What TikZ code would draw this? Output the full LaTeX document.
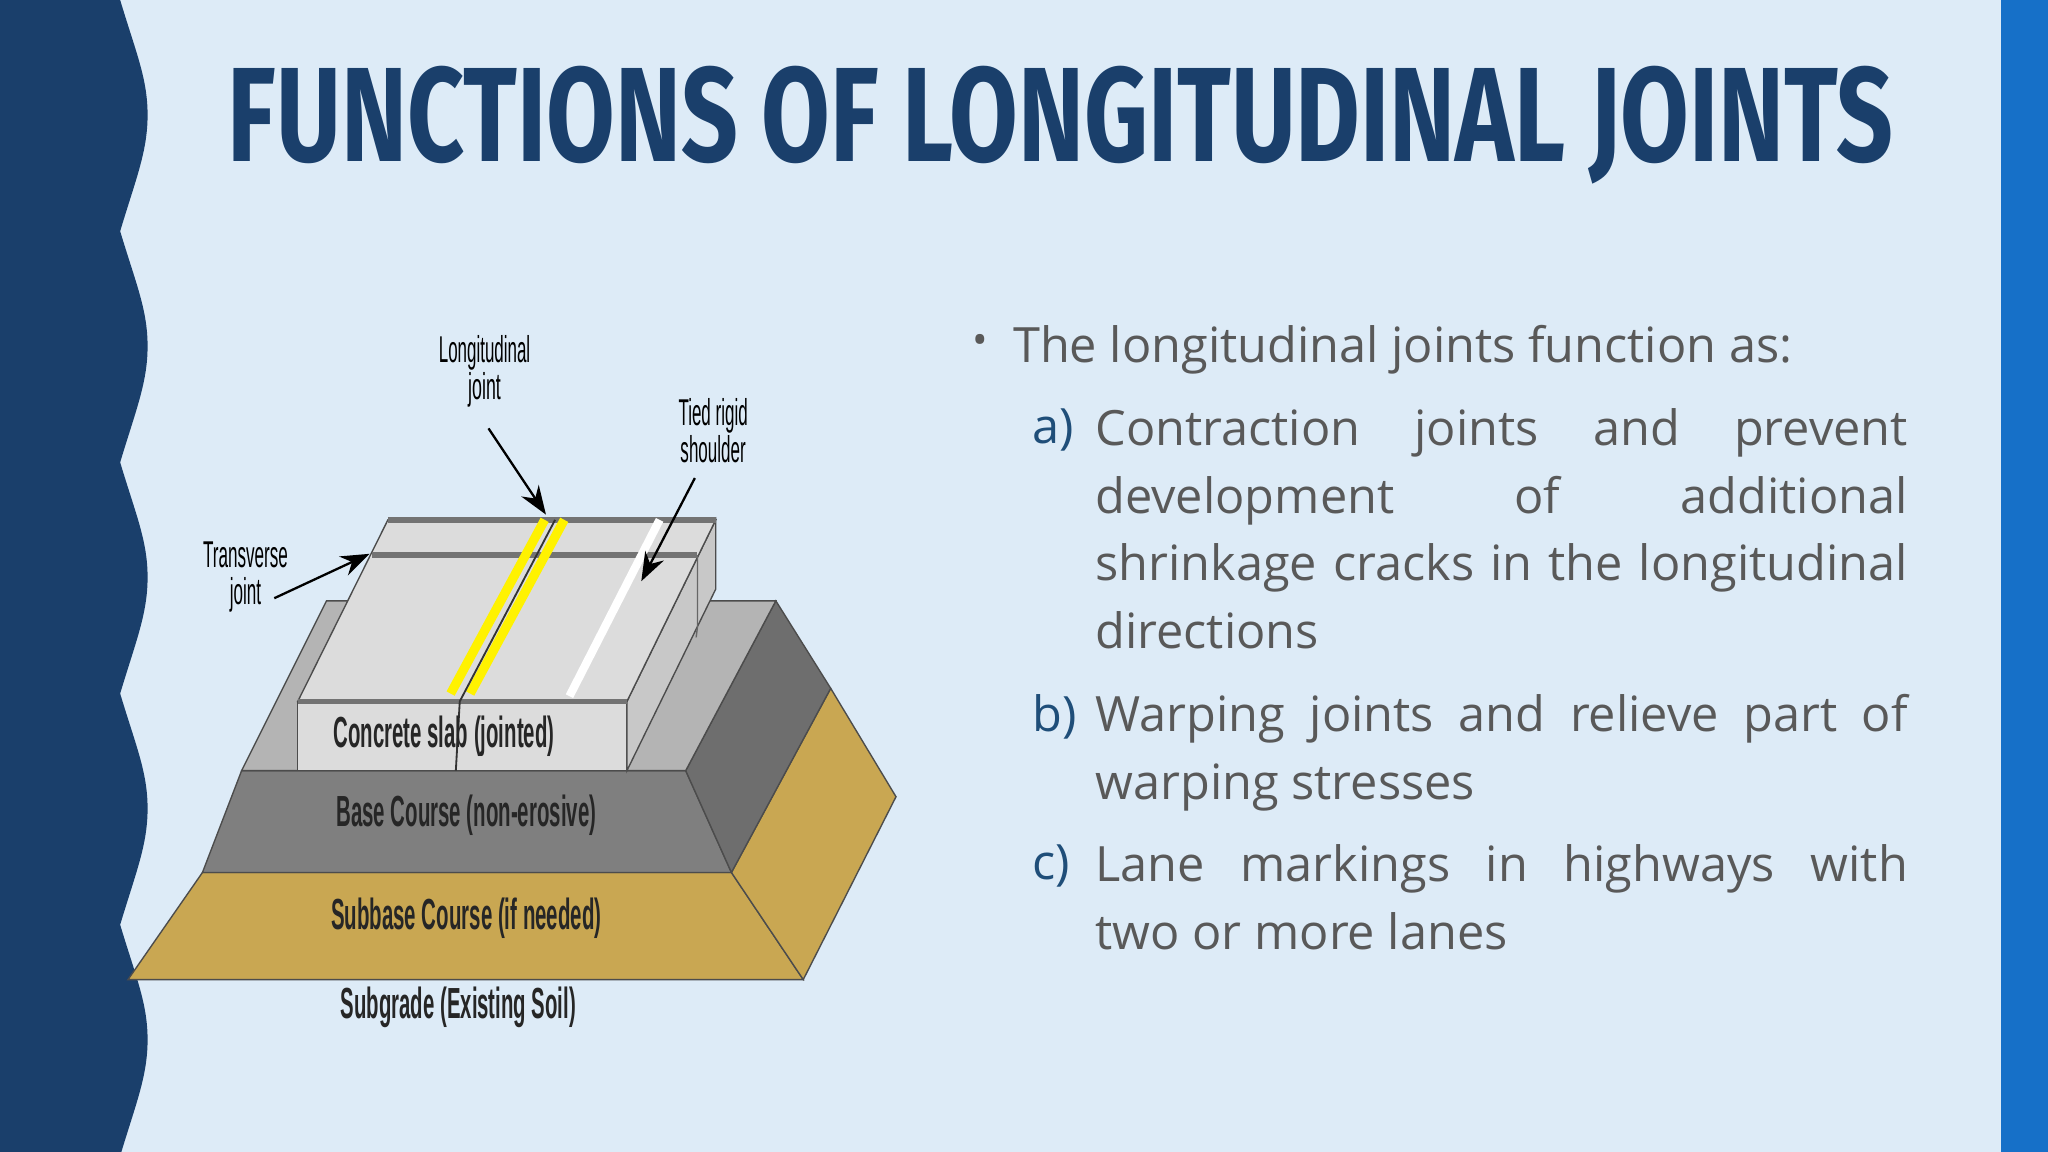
\documentclass[tikz,border=0pt]{standalone}
\usepackage{fontspec}
\setmainfont{Open Sans}
\newfontfamily\narrowf{Liberation Sans}
\newfontfamily\titlef{Fira Sans}
\usetikzlibrary{arrows.meta}
\definecolor{bgc}{HTML}{DDEBF7}
\definecolor{navy}{HTML}{1A3F6B}
\definecolor{rbar}{HTML}{1670C8}
\definecolor{txt}{HTML}{595959}
\definecolor{itm}{HTML}{1F4E79}
\definecolor{tan}{HTML}{C9A752}
\definecolor{basec}{HTML}{7F7F7F}
\definecolor{based}{HTML}{6E6E6E}
\definecolor{basetop}{HTML}{B4B4B4}
\definecolor{slab}{HTML}{DCDCDC}
\definecolor{slabside}{HTML}{C8C8C8}
\newcommand{\nb}[3]{\resizebox{#1mm}{#2mm}{\narrowf\bfseries\strut #3}}
\newcommand{\nr}[3]{\resizebox{#1mm}{#2mm}{\narrowf\strut #3}}
\tikzset{
 lbl/.style={text=black, align=center, inner sep=0pt},
 blbl/.style={text=black!85, inner sep=0pt},
 pt/.style={text=txt, font=\fontsize{10.6}{14.75}\selectfont, inner sep=0pt, anchor=north west},
 para/.style={pt, text width=62.2mm, align=justify, execute at begin node={\hyphenpenalty=10000\exhyphenpenalty=10000}},
 ptr/.style={draw=black, line width=0.5pt, -{Stealth[length=2.2mm,width=1.6mm]}},
 edge/.style={draw=black!70, line width=0.3pt}
}
\begin{document}
\begin{tikzpicture}[x=0.1mm,y=-0.1mm]
\useasboundingbox (0,0) rectangle (1568,882);
\fill[bgc] (0,0) rectangle (1568,882);
\fill[rbar] (1532,0) rectangle (1568,882);
% wavy left band
\fill[navy] (0,0) -- (92,0)
  \foreach \k in {0,...,4} { .. controls ({104},{\k*177+40}) and ({113},{\k*177+60}) .. ({113},{\k*177+88})
   .. controls ({113},{\k*177+116}) and ({104},{\k*177+137}) .. ({92},{\k*177+177}) }
  -- (0,882) -- cycle;
% title
\node (title) at (812,96) {\resizebox{127.5mm}{7.3mm}{\titlef\bfseries\color{navy}FUNCTIONS OF LONGITUDINAL JOINTS}};
% diagram layers
\coordinate (s1) at (98,750); \coordinate (s2) at (615,750); \coordinate (s3) at (560,668); \coordinate (s4) at (155,668);
\coordinate (s5) at (686,610); \coordinate (s6) at (636,527);
\filldraw[fill=tan,edge] (s1) -- (s2) -- (s3) -- (s4) -- cycle;
\filldraw[fill=tan,edge] (s2) -- (s5) -- (s6) -- (s3) -- cycle;
\coordinate (b1) at (185,590); \coordinate (b2) at (525,590); \coordinate (b3) at (594,460); \coordinate (b4) at (250,460);
\filldraw[fill=basec,edge] (s4) -- (s3) -- (b2) -- (b1) -- cycle;
\filldraw[fill=based,edge] (s3) -- (s6) -- (b3) -- (b2) -- cycle;
\filldraw[fill=basetop,edge] (b1) -- (b2) -- (b3) -- (b4) -- cycle;
% slab
\coordinate (c1) at (228,537); \coordinate (c2) at (480,537); \coordinate (c3) at (548,398); \coordinate (c4) at (297,398);
\coordinate (c5) at (480,590); \coordinate (c6) at (228,590); \coordinate (c7) at (548,451);
\filldraw[fill=slab,edge] (c6) -- (c5) -- (c2) -- (c1) -- cycle;
\filldraw[fill=slabside,edge] (c5) -- (c7) -- (c3) -- (c2) -- cycle;
\filldraw[fill=slab,edge] (c1) -- (c2) -- (c3) -- (c4) -- cycle;
\draw[black!55, line width=1.2pt] (c4) -- (c3);
\draw[black!55, line width=1.2pt] (c1) -- (c2);
\coordinate (tj1) at (285,425); \coordinate (tj2) at (534,425);
\draw[black!55, line width=1.2pt] (tj1) -- (tj2);
\draw[black!60, line width=0.3pt] (534,425) -- (534,480) -- (533,488);
% joints
\draw[yellow, line width=2pt] (417,398) -- (345,531);
\draw[yellow, line width=2pt] (432,398) -- (360,531);
\draw[black!80, line width=0.4pt] (425,398) -- (352,537) -- (349,590);
\draw[white, line width=1.8pt] (505,398) -- (436,533);
% labels & arrows
\node[lbl] (lj) at (371,285) {\nr{7.0}{2.4}{Longitudinal}\\[-1.4mm]\nr{2.5}{2.4}{joint}};
\node[lbl] (ts) at (546,333) {\nr{5.3}{2.4}{Tied rigid}\\[-1.4mm]\nr{5.0}{2.4}{shoulder}};
\node[lbl] (tr) at (188,442) {\nr{6.5}{2.4}{Transverse}\\[-1.4mm]\nr{2.4}{2.4}{joint}};
\coordinate (ljt) at (418,394); \coordinate (tst) at (491,445); \coordinate (trt) at (283,424);
\draw[ptr] (374,328) -- (ljt);
\draw[ptr] (532,366) -- (tst);
\draw[ptr] (210,458) -- (trt);
\node[blbl] (cs) at (340,564) {\nb{16.9}{2.8}{Concrete slab (jointed)}};
\node[blbl] (bc) at (357,625) {\nb{19.9}{2.8}{Base Course (non-erosive)}};
\node[blbl] (sb) at (357,704) {\nb{20.7}{2.8}{Subbase Course (if needed)}};
\node[blbl] (sg) at (351,772) {\nb{18.0}{2.8}{Subgrade (Existing Soil)}};
% text
\node[pt, text=txt, font=\fontsize{9}{10}\selectfont] (bul) at (744,255) {\textbullet};
\node[pt] (p0) at (775,248) {The longitudinal joints function as:};
\node[pt, text=itm] (la) at (790,312) {a)};
\node[para] (pa) at (838,312) {Contraction joints and prevent development of additional shrinkage cracks in the longitudinal directions};
\node[pt, text=itm] (lb) at (790,531) {b)};
\node[para] (pb) at (838,531) {Warping joints and relieve part of warping stresses};
\node[pt, text=itm] (lc) at (790,646) {c)};
\node[para] (pc) at (838,646) {Lane markings in highways with\linebreak two or more lanes};
\end{tikzpicture}
\end{document}
